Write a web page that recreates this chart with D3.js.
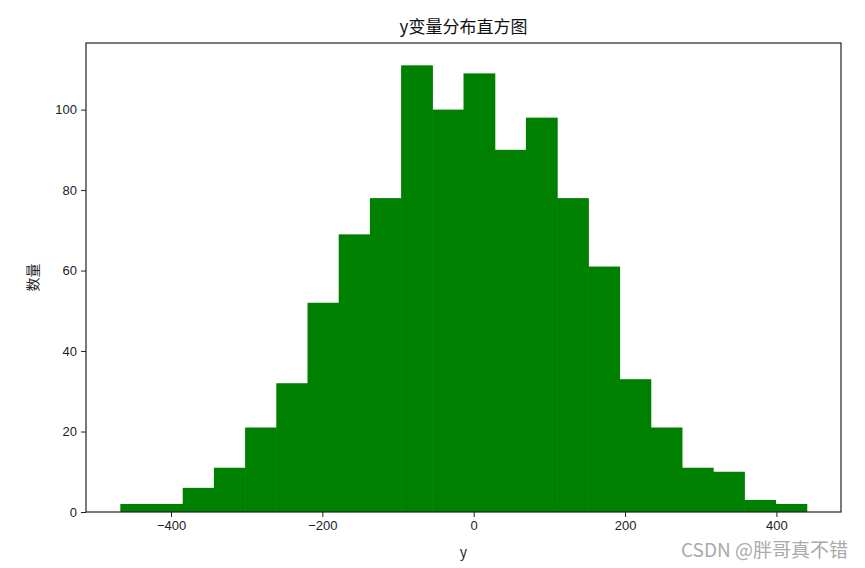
<!DOCTYPE html>
<html><head><meta charset="utf-8">
<script src="https://cdn.jsdelivr.net/npm/d3@7"></script>
<style>
body{margin:0;background:#fff;}
text{font-family:"Noto Sans CJK SC","DejaVu Sans",sans-serif;}
</style></head>
<body><svg id="c" width="865" height="568"></svg>
<script>
const binStart = -467;
const binEnd = 440;
const counts = [2,2,6,11,21,32,52,69,78,111,100,109,90,98,78,61,33,21,11,10,3,2];
const xTicks = [-400,-200,0,200,400];
const yTicks = [0,20,40,60,80,100];
const title = "y变量分布直方图";
const xLabel = "y";
const yLabel = "数量";
const watermark = "CSDN @胖哥真不错";

const svg = d3.select("#c");
const L=86, R=841, T=43, B=512;
const w = (binEnd-binStart)/counts.length;
const bins = counts.map((c,i)=>({x0:binStart+i*w, x1:binStart+(i+1)*w, c}));
const pad = (binEnd-binStart)*0.05;
const x = d3.scaleLinear().domain([binStart-pad, binEnd+pad]).range([L,R]);
const y = d3.scaleLinear().domain([0, d3.max(counts)*1.05]).range([B,T]);

svg.append("g").selectAll("rect").data(bins).join("rect")
  .attr("x",d=>x(d.x0)).attr("width",d=>x(d.x1)-x(d.x0)+0.6)
  .attr("y",d=>y(d.c)).attr("height",d=>B-y(d.c))
  .attr("fill","#008000");

const xa = svg.append("g").attr("transform",`translate(0,${B})`)
  .call(d3.axisBottom(x).tickValues(xTicks).tickSize(5).tickPadding(4).tickFormat(d=>d<0?"\u2212"+(-d):d));
const ya = svg.append("g").attr("transform",`translate(${L},0)`)
  .call(d3.axisLeft(y).tickValues(yTicks).tickSize(5).tickPadding(4));
[xa,ya].forEach(a=>{a.select(".domain").remove();a.selectAll("text").attr("font-size",13).attr("fill","#222").style("font-family","'Liberation Sans','DejaVu Sans',sans-serif");a.selectAll("line").attr("stroke","#222");});

svg.append("rect").attr("x",L).attr("y",T).attr("width",R-L).attr("height",B-T)
  .attr("fill","none").attr("stroke","#222").attr("stroke-width",1.2);

svg.append("text").attr("x",(L+R)/2).attr("y",33).attr("text-anchor","middle")
  .attr("font-size",17).attr("fill","#111").text(title);
svg.append("text").attr("x",(L+R)/2).attr("y",557).attr("text-anchor","middle")
  .attr("font-size",14).attr("fill","#222").text(xLabel);
svg.append("text").attr("transform",`translate(38,${(T+B)/2}) rotate(-90)`).attr("text-anchor","middle")
  .attr("font-size",14).attr("fill","#222").text(yLabel);
svg.append("text").attr("x",848).attr("y",557).attr("text-anchor","end")
  .attr("font-size",19).attr("fill","#aaa").text(watermark);
</script></body></html>
